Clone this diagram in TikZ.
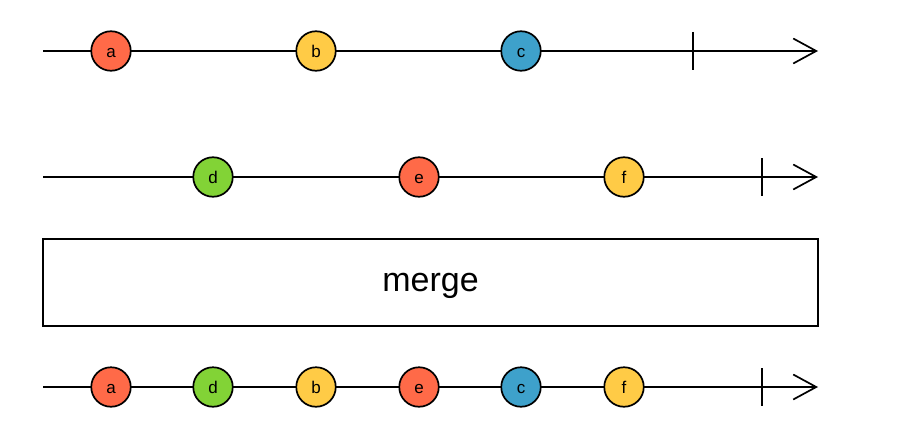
\documentclass[tikz,border=0pt]{standalone}
\usepackage{fontspec}
\setmainfont{Liberation Sans}
\usepackage{xcolor}
\usepackage{tikz}
\usetikzlibrary{arrows.meta,positioning}
\definecolor{marblered}{RGB}{255,106,72}
\definecolor{marbleyellow}{RGB}{255,203,70}
\definecolor{marbleblue}{RGB}{62,161,203}
\definecolor{marblegreen}{RGB}{130,211,54}

\begin{document}
\begin{tikzpicture}[
    x=1pt, y=-1pt,
    marble/.style={circle, draw=black, fill=#1, line width=1.7pt,
                   minimum size=39.5pt, inner sep=0pt, text height=12.5pt, text depth=0pt,
                   font=\fontsize{17}{19}\selectfont},
    timeline/.style={line width=1.7pt, -{Straight Barb[length=23pt,width=25pt,line width=1.7pt]}},
    endmark/.style={line width=1.7pt},
    opbox/.style={rectangle, draw=black, line width=1.7pt, minimum width=775pt,
                  minimum height=87pt, text depth=0pt, font=\fontsize{34}{40}\selectfont}
]
\useasboundingbox (0,0) rectangle (912,433);

% Input 1
\coordinate (start1) at (43,51);
\coordinate (end1) at (818,51);
\draw[timeline] (start1) -- (end1);
\node[marble=marblered] (a1) at (111,51) {a};
\node[marble=marbleyellow] (b1) at (316,51) {b};
\node[marble=marbleblue] (c1) at (521,51) {c};
\coordinate (done1) at (693,51);
\draw[endmark] ([yshift=19pt]done1) -- ([yshift=-19pt]done1);

% Input 2
\coordinate (start2) at (43,177);
\coordinate (end2) at (818,177);
\draw[timeline] (start2) -- (end2);
\node[marble=marblegreen] (d2) at (213,177) {d};
\node[marble=marblered] (e2) at (419,177) {e};
\node[marble=marbleyellow] (f2) at (624,177) {f};
\coordinate (done2) at (762,177);
\draw[endmark] ([yshift=19pt]done2) -- ([yshift=-19pt]done2);

% Operator
\node[opbox] (merge) at (430.5,282.5) {merge};

% Output
\coordinate (start3) at (43,387);
\coordinate (end3) at (818,387);
\draw[timeline] (start3) -- (end3);
\node[marble=marblered] (a3) at (111,387) {a};
\node[marble=marblegreen] (d3) at (213,387) {d};
\node[marble=marbleyellow] (b3) at (316,387) {b};
\node[marble=marblered] (e3) at (419,387) {e};
\node[marble=marbleblue] (c3) at (521,387) {c};
\node[marble=marbleyellow] (f3) at (624,387) {f};
\coordinate (done3) at (762,387);
\draw[endmark] ([yshift=19pt]done3) -- ([yshift=-19pt]done3);

\end{tikzpicture}
\end{document}
